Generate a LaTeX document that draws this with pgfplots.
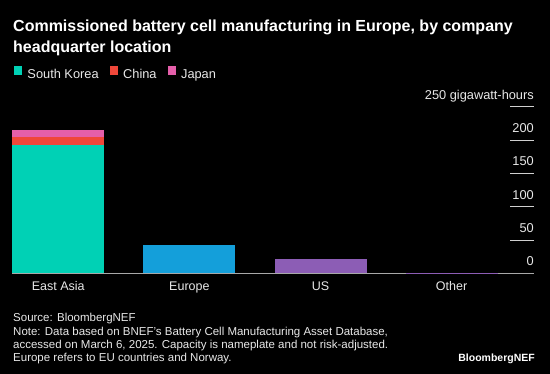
\documentclass[border=0pt]{standalone}
\usepackage{fontspec}
\setmainfont{Liberation Sans}
\usepackage{pgfplots}
\usepackage{pgfplotstable}
\pgfplotsset{compat=1.18}
\definecolor{skorea}{HTML}{00D1B5}
\definecolor{china}{HTML}{F0473A}
\definecolor{japan}{HTML}{E55FAA}
\definecolor{europe}{HTML}{149FDA}
\definecolor{usc}{HTML}{8C5DB5}
\definecolor{axisgray}{HTML}{A8A8A8}
\definecolor{tickc}{HTML}{D0D0D0}
\definecolor{txt}{HTML}{E8E8E8}

\pgfplotstableread{
x SK CN JP EU US OT
0 192 12 11 0 0 0
1 0 0 0 42 0 0
2 0 0 0 0 21 0
3 0 0 0 0 0 1
}\datatable

\begin{document}
\begin{tikzpicture}[x=1pt,y=1pt]
\useasboundingbox (0,0) rectangle (550,-374);
\fill[black] (0,0) rectangle (550,-374);
\node[anchor=base west, inner sep=0pt, text=white, font=\bfseries\fontsize{16}{19}\selectfont] at (13,-32) {Commissioned battery cell manufacturing in Europe, by company};
\node[anchor=base west, inner sep=0pt, text=white, font=\bfseries\fontsize{16}{19}\selectfont] at (13,-52.3) {headquarter location};
\begin{axis}[
  at={(12pt,-273.5pt)}, anchor=south west,
  scale only axis, width=522pt, height=166.8pt,
  xmin=-0.3532, xmax=3.6285, ymin=0, ymax=250,
  enlargelimits=false,
  ybar stacked, bar width=92pt,
  axis x line*=bottom, axis y line*=right,
  x axis line style={-, draw=axisgray, line width=0.8pt},
  y axis line style={draw=none},
  xtick={0,1,2,3}, xticklabels={East Asia,Europe,US,Other},
  xtick style={draw=none},
  xticklabel style={anchor=base, inner sep=0pt, yshift=-16.8pt, text=txt, font=\fontsize{12.5}{15}\selectfont},
  ytick={0,50,...,250},
  yticklabels={0,50,100,150,200,250 gigawatt-hours},
  ytick style={draw=tickc, line width=0.8pt},
  tick align=inside, major tick length=24pt,
  yticklabel style={anchor=base east, inner sep=0pt, yshift=7.5pt, text=txt, font=\fontsize{12.8}{15}\selectfont, /pgf/number format/assume math mode=true},
  legend columns=3,
  legend style={at={(0.00383,1.202)}, anchor=west, draw=none, fill=none, inner sep=0pt, outer sep=0pt,
    font=\fontsize{12.8}{15}\selectfont, text=txt, nodes={inner sep=0pt},
    /tikz/every odd column/.append style={column sep=5pt},
    /tikz/every even column/.append style={column sep=11pt}},
  legend image code/.code={\fill[#1] (0pt,0pt) rectangle (8.5pt,8.5pt);},
]
\addplot[fill=skorea, draw=none] table[x=x, y=SK] {\datatable};
\addplot[fill=china, draw=none] table[x=x, y=CN] {\datatable};
\addplot[fill=japan, draw=none] table[x=x, y=JP] {\datatable};
\addplot[fill=europe, draw=none] table[x=x, y=EU] {\datatable};
\addplot[fill=usc, draw=none] table[x=x, y=US] {\datatable};
\addplot[fill=usc, draw=none] table[x=x, y=OT] {\datatable};
\legend{South Korea,China,Japan}
\end{axis}
\node[anchor=base west, inner sep=0pt, text=txt, font=\fontsize{11.5}{13}\selectfont] at (13,-322) {Source: BloombergNEF};
\node[anchor=base west, inner sep=0pt, text=txt, font=\fontsize{11.5}{13}\selectfont] at (13,-335.3) {Note: Data based on BNEF’s Battery Cell Manufacturing Asset Database,};
\node[anchor=base west, inner sep=0pt, text=txt, font=\fontsize{11.5}{13}\selectfont] at (13,-348.6) {accessed on March 6, 2025. Capacity is nameplate and not risk-adjusted.};
\node[anchor=base west, inner sep=0pt, text=txt, font=\fontsize{11.5}{13}\selectfont] at (13,-362) {Europe refers to EU countries and Norway.};
\node[anchor=base east, inner sep=0pt, text=white, font=\bfseries\fontsize{10.5}{13}\selectfont] at (535,-362) {BloombergNEF};
\end{tikzpicture}
\end{document}
